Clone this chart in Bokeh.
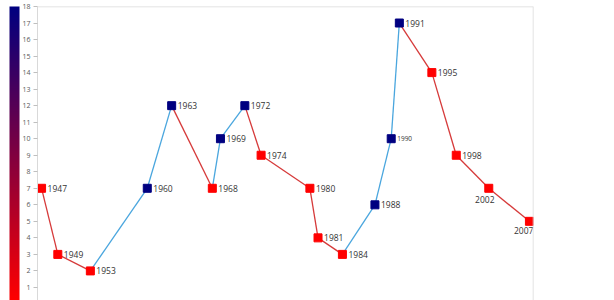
import numpy as np
from bokeh.plotting import figure
from bokeh.models import (ColumnDataSource, Range1d, FixedTicker, ColorBar,
                          LinearColorMapper, Span)
from bokeh.embed import file_html
from bokeh.resources import INLINE

# ---- data ----
years = [1947, 1949, 1953, 1960, 1963, 1968, 1969, 1972, 1974, 1980,
         1981, 1984, 1988, 1990, 1991, 1995, 1998, 2002, 2007]
values = [7, 3, 2, 7, 12, 7, 10, 12, 9, 7, 4, 3, 6, 10, 17, 14, 9, 7, 5]
y_ticks = list(range(1, 19))

RED = "#FF0000"
NAVY = "#000080"
UP_LINE = "#4AA6DE"
DOWN_LINE = "#D63A3A"

# gradient palette red -> navy
n = 256
palette = []
for i in range(n):
    t = i / (n - 1)
    r = int(round(255 * (1 - t)))
    b = int(round(128 * t))
    palette.append("#%02x00%02x" % (r, b))

p = figure(width=614, height=300, output_backend="svg", toolbar_location=None,
           x_range=Range1d(1946.5, 2007.5), y_range=Range1d(0.21, 18),
           min_border_top=6, min_border_bottom=0, min_border_right=81,
           min_border_left=37)
p.outline_line_color = None
p.xaxis.visible = False
p.xgrid.grid_line_color = None
p.ygrid.grid_line_color = None

ya = p.yaxis[0]
ya.ticker = FixedTicker(ticks=y_ticks)
ya.axis_line_color = "#D9D9D9"
ya.major_tick_line_color = "#BFBFBF"
ya.major_tick_out = 4
ya.major_tick_in = 0
ya.minor_tick_line_color = None
ya.major_label_text_font = "Open Sans"
ya.major_label_text_font_size = "7px"
ya.major_label_text_color = "#595959"
ya.major_label_standoff = 3

# frame borders top/right
p.add_layout(Span(location=18, dimension="width", line_color="#D9D9D9", line_width=1.5))
p.add_layout(Span(location=2007.5, dimension="height", line_color="#D9D9D9", line_width=1.5))

# colour bar
mapper = LinearColorMapper(palette=palette, low=0, high=18)
cb = ColorBar(color_mapper=mapper, width=10, padding=0, margin=0,
              ticker=FixedTicker(ticks=[]), major_tick_line_color=None,
              bar_line_color=None, border_line_color=None,
              background_fill_color=None, label_standoff=0)
p.add_layout(cb, "left")

# segments
xs0, ys0, xs1, ys1, seg_col = [], [], [], [], []
for i in range(1, len(years)):
    xs0.append(years[i - 1]); ys0.append(values[i - 1])
    xs1.append(years[i]); ys1.append(values[i])
    seg_col.append(UP_LINE if values[i] > values[i - 1] else DOWN_LINE)
p.segment(x0=xs0, y0=ys0, x1=xs1, y1=ys1, line_color=seg_col, line_width=1.3)

# markers
mcol = [RED] + [NAVY if values[i] > values[i - 1] else RED for i in range(1, len(values))]
p.scatter(years, values, marker="square", size=8, fill_color=mcol, line_color=mcol)

# labels
lab = dict(x=[], y=[], text=[], xo=[], yo=[], align=[], base=[], size=[])
special = {
    2002: (-4, 11, "center", "middle", "8.5px"),
    2007: (4, 9, "right", "middle", "8.5px"),
    1990: (6, 0, "left", "middle", "6.5px"),
}
for yr, v in zip(years, values):
    xo, yo, al, bl, sz = special.get(yr, (6, 0, "left", "middle", "8.5px"))
    lab["x"].append(yr); lab["y"].append(v); lab["text"].append(str(yr))
    lab["xo"].append(xo); lab["yo"].append(yo); lab["align"].append(al)
    lab["base"].append(bl); lab["size"].append(sz)
src = ColumnDataSource(lab)
p.text(x="x", y="y", text="text", x_offset="xo", y_offset="yo",
       text_align="align", text_baseline="base", text_font_size="size",
       text_color="#333333", text_font={"value": "Open Sans"}, source=src)

open("out.html", "w").write(file_html(p, INLINE))
